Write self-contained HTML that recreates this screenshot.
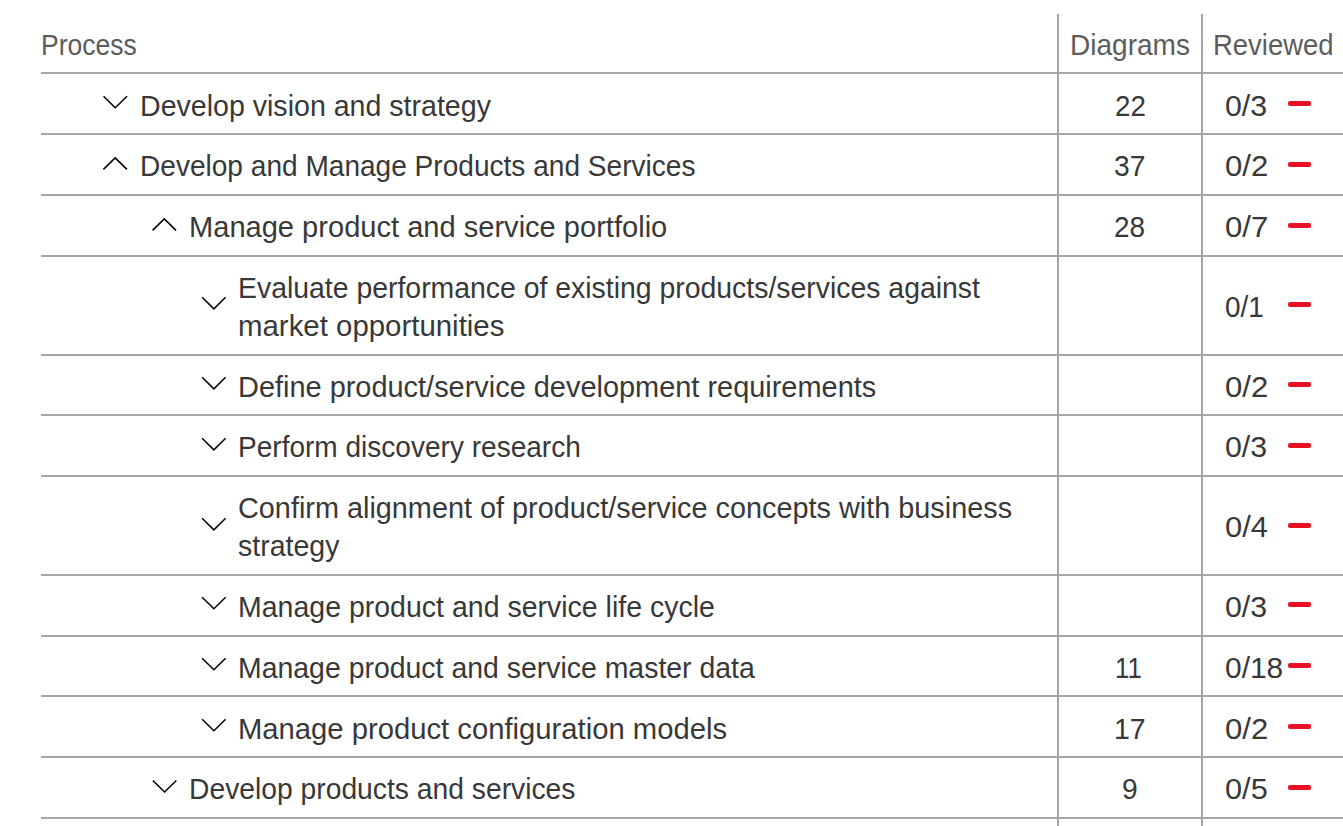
<!DOCTYPE html>
<html><head><meta charset="utf-8"><style>
html,body{margin:0;padding:0;background:#fff;width:1343px;height:826px;overflow:hidden;position:relative}
.t{position:absolute;font-family:"Liberation Sans",sans-serif;font-size:29px;line-height:29px;white-space:nowrap;transform-origin:0 0;color:#383838}
.g{color:#5c5c5c}
.h{position:absolute;left:41px;width:1302px;height:2px;background:#a6a6a6}
.v{position:absolute;width:2px;top:14px;height:812px;background:#a6a6a6}
.d{position:absolute;width:22.6px;height:5.4px;border-radius:2px;background:#e81123}
svg{position:absolute;left:0;top:0}
</style></head><body>

<div class="h" style="top:72px"></div>
<div class="h" style="top:133px"></div>
<div class="h" style="top:194px"></div>
<div class="h" style="top:255px"></div>
<div class="h" style="top:354px"></div>
<div class="h" style="top:414px"></div>
<div class="h" style="top:475px"></div>
<div class="h" style="top:574px"></div>
<div class="h" style="top:635px"></div>
<div class="h" style="top:695px"></div>
<div class="h" style="top:756px"></div>
<div class="h" style="top:817px"></div>
<div class="v" style="left:1057px"></div><div class="v" style="left:1201px"></div>
<div class="t g" style="left:41.22px;top:31.00px;transform:scaleX(0.9136)">Process</div>
<div class="t g" style="left:1070.08px;top:31.00px;transform:scaleX(0.9668)">Diagrams</div>
<div class="t g" style="left:1213.13px;top:31.00px;transform:scaleX(0.9472)">Reviewed</div>
<div class="t" style="left:139.54px;top:92.00px;transform:scaleX(0.9850)">Develop vision and strategy</div>
<div class="t" style="left:139.58px;top:152.00px;transform:scaleX(0.9678)">Develop and Manage Products and Services</div>
<div class="t" style="left:188.69px;top:213.00px;transform:scaleX(1.0023)">Manage product and service portfolio</div>
<div class="t" style="left:237.90px;top:274.00px;transform:scaleX(0.9793)">Evaluate performance of existing products/services against</div>
<div class="t" style="left:238.32px;top:312.00px;transform:scaleX(1.0139)">market opportunities</div>
<div class="t" style="left:237.86px;top:373.00px;transform:scaleX(0.9973)">Define product/service development requirements</div>
<div class="t" style="left:237.93px;top:433.00px;transform:scaleX(0.9669)">Perform discovery research</div>
<div class="t" style="left:237.91px;top:494.00px;transform:scaleX(0.9943)">Confirm alignment of product/service concepts with business</div>
<div class="t" style="left:238.32px;top:532.00px;transform:scaleX(0.9833)">strategy</div>
<div class="t" style="left:237.89px;top:593.00px;transform:scaleX(0.9829)">Manage product and service life cycle</div>
<div class="t" style="left:237.90px;top:654.00px;transform:scaleX(0.9804)">Manage product and service master data</div>
<div class="t" style="left:237.83px;top:715.00px;transform:scaleX(1.0079)">Manage product configuration models</div>
<div class="t" style="left:188.76px;top:775.00px;transform:scaleX(0.9746)">Develop products and services</div>
<div class="t" style="left:1114.56px;top:92.00px;transform:scaleX(0.9573)">22</div>
<div class="t" style="left:1114.28px;top:152.00px;transform:scaleX(0.9729)">37</div>
<div class="t" style="left:1114.36px;top:213.00px;transform:scaleX(0.9627)">28</div>
<div class="t" style="left:1115.20px;top:654.00px;transform:scaleX(0.8868)">11</div>
<div class="t" style="left:1113.79px;top:715.00px;transform:scaleX(0.9825)">17</div>
<div class="t" style="left:1122.49px;top:775.00px;transform:scaleX(0.9704)">9</div>
<div class="t" style="left:1224.70px;top:92.00px;transform:scaleX(1.0437)">0/3</div>
<div class="d" style="left:1288.4px;top:100.75px"></div>
<div class="t" style="left:1224.66px;top:152.00px;transform:scaleX(1.0720)">0/2</div>
<div class="d" style="left:1288.4px;top:161.80px"></div>
<div class="t" style="left:1224.66px;top:213.00px;transform:scaleX(1.0720)">0/7</div>
<div class="d" style="left:1288.4px;top:222.80px"></div>
<div class="t" style="left:1224.79px;top:293.00px;transform:scaleX(0.9642)">0/1</div>
<div class="d" style="left:1288.4px;top:301.80px"></div>
<div class="t" style="left:1224.66px;top:373.00px;transform:scaleX(1.0720)">0/2</div>
<div class="d" style="left:1288.4px;top:381.80px"></div>
<div class="t" style="left:1224.70px;top:433.00px;transform:scaleX(1.0437)">0/3</div>
<div class="d" style="left:1288.4px;top:442.80px"></div>
<div class="t" style="left:1224.67px;top:513.00px;transform:scaleX(1.0641)">0/4</div>
<div class="d" style="left:1288.4px;top:522.80px"></div>
<div class="t" style="left:1224.70px;top:593.00px;transform:scaleX(1.0437)">0/3</div>
<div class="d" style="left:1288.4px;top:601.75px"></div>
<div class="t" style="left:1224.71px;top:654.00px;transform:scaleX(1.0315)">0/18</div>
<div class="d" style="left:1288.4px;top:662.75px"></div>
<div class="t" style="left:1224.66px;top:715.00px;transform:scaleX(1.0720)">0/2</div>
<div class="d" style="left:1288.4px;top:723.75px"></div>
<div class="t" style="left:1224.68px;top:775.00px;transform:scaleX(1.0596)">0/5</div>
<div class="d" style="left:1288.4px;top:784.90px"></div>
<svg width="1343" height="826" viewBox="0 0 1343 826"><path d="M103.53 96.28L115.28 107.78L127.03 96.28M103.43 169.36L115.18 157.86L126.93 169.36M152.53 230.36L164.28 218.86L176.03 230.36M202.13 297.33L213.88 308.83L225.63 297.33M202.13 377.33L213.88 388.83L225.63 377.33M202.13 438.33L213.88 449.83L225.63 438.33M202.13 518.33L213.88 529.83L225.63 518.33M202.13 597.28L213.88 608.78L225.63 597.28M202.13 658.28L213.88 669.78L225.63 658.28M202.13 719.28L213.88 730.78L225.63 719.28M152.83 780.43L164.58 791.93L176.33 780.43" fill="none" stroke="#000" stroke-width="1.5" stroke-linejoin="miter"/></svg>
</body></html>
